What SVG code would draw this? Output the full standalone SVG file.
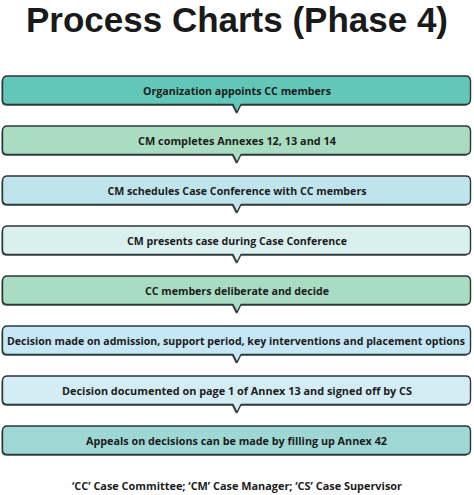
<svg xmlns="http://www.w3.org/2000/svg" width="474" height="495" viewBox="0 0 474 495">
  <defs>
    <style>
      .box { stroke: #2b3838; stroke-width: 1.4; stroke-linejoin: round; }
      .shadow { fill: #4a5656; }
      .lbl { font-family: "Open Sans", "Liberation Sans", sans-serif; font-weight: bold; font-size: 10.5px; fill: #1c1c1c; text-anchor: middle; dominant-baseline: central; }
      .title { font-family: "Liberation Sans", Arial, sans-serif; font-weight: bold; font-size: 35px; fill: #1a1a1a; text-anchor: middle; }
      .note { font-family: "Open Sans", "Liberation Sans", sans-serif; font-weight: bold; font-size: 10.5px; fill: #1c1c1c; text-anchor: middle; dominant-baseline: central; }
    </style>
    <path id="callout" d="M7.5,0 H465.5 Q470.5,0 470.5,5 V23.5 Q470.5,28.5 465.5,28.5 H241 L237,36.5 L233,28.5 H7.5 Q2.5,28.5 2.5,23.5 V5 Q2.5,0 7.5,0 Z"/>
  </defs>
  <rect width="474" height="495" fill="#ffffff"/>
  <text class="title" x="237" y="32.3" textLength="422" lengthAdjust="spacingAndGlyphs">Process Charts (Phase 4)</text>

  <g id="connectors"></g>

  <g id="n1" transform="translate(0,76)">
    <use href="#callout" class="shadow" x="-1" y="1.2"/>
    <use href="#callout" class="box" fill="#62c6b8"/>
    <text class="lbl" x="237" y="14.7" textLength="188" lengthAdjust="spacingAndGlyphs">Organization appoints CC members</text>
  </g>
  <g id="n2" transform="translate(0,126)">
    <use href="#callout" class="shadow" x="-1" y="1.2"/>
    <use href="#callout" class="box" fill="#a9dcc1"/>
    <text class="lbl" x="237" y="14.7" textLength="198" lengthAdjust="spacingAndGlyphs">CM completes Annexes 12, 13 and 14</text>
  </g>
  <g id="n3" transform="translate(0,176)">
    <use href="#callout" class="shadow" x="-1" y="1.2"/>
    <use href="#callout" class="box" fill="#bfe4ec"/>
    <text class="lbl" x="237" y="14.7" textLength="259" lengthAdjust="spacingAndGlyphs">CM schedules Case Conference with CC members</text>
  </g>
  <g id="n4" transform="translate(0,226)">
    <use href="#callout" class="shadow" x="-1" y="1.2"/>
    <use href="#callout" class="box" fill="#daf0ef"/>
    <text class="lbl" x="237" y="14.7" textLength="220" lengthAdjust="spacingAndGlyphs">CM presents case during Case Conference</text>
  </g>
  <g id="n5" transform="translate(0,276)">
    <use href="#callout" class="shadow" x="-1" y="1.2"/>
    <use href="#callout" class="box" fill="#a8dcc3"/>
    <text class="lbl" x="237" y="14.7" textLength="184" lengthAdjust="spacingAndGlyphs">CC members deliberate and decide</text>
  </g>
  <g id="n6" transform="translate(0,326)">
    <use href="#callout" class="shadow" x="-1" y="1.2"/>
    <use href="#callout" class="box" fill="#c6e7f5"/>
    <text class="lbl" x="236" y="14.7" textLength="458" lengthAdjust="spacingAndGlyphs">Decision made on admission, support period, key interventions and placement options</text>
  </g>
  <g id="n7" transform="translate(0,376)">
    <use href="#callout" class="shadow" x="-1" y="1.2"/>
    <use href="#callout" class="box" fill="#d4edf4"/>
    <text class="lbl" x="237" y="14.7" textLength="350" lengthAdjust="spacingAndGlyphs">Decision documented on page 1 of Annex 13 and signed off by CS</text>
  </g>
  <g id="n8" transform="translate(0,426)">
    <path class="shadow" transform="translate(-1,1.2)" d="M7.5,0 H465.5 Q470.5,0 470.5,5 V23.5 Q470.5,28.5 465.5,28.5 H7.5 Q2.5,28.5 2.5,23.5 V5 Q2.5,0 7.5,0 Z"/>
    <path class="box" fill="#9ed7d3" d="M7.5,0 H465.5 Q470.5,0 470.5,5 V23.5 Q470.5,28.5 465.5,28.5 H7.5 Q2.5,28.5 2.5,23.5 V5 Q2.5,0 7.5,0 Z"/>
    <text class="lbl" x="236.5" y="14.7" textLength="301" lengthAdjust="spacingAndGlyphs">Appeals on decisions can be made by filling up Annex 42</text>
  </g>

  <text class="note" x="237" y="486" textLength="330" lengthAdjust="spacingAndGlyphs">‘CC’ Case Committee; ‘CM’ Case Manager; ‘CS’ Case Supervisor</text>
</svg>
